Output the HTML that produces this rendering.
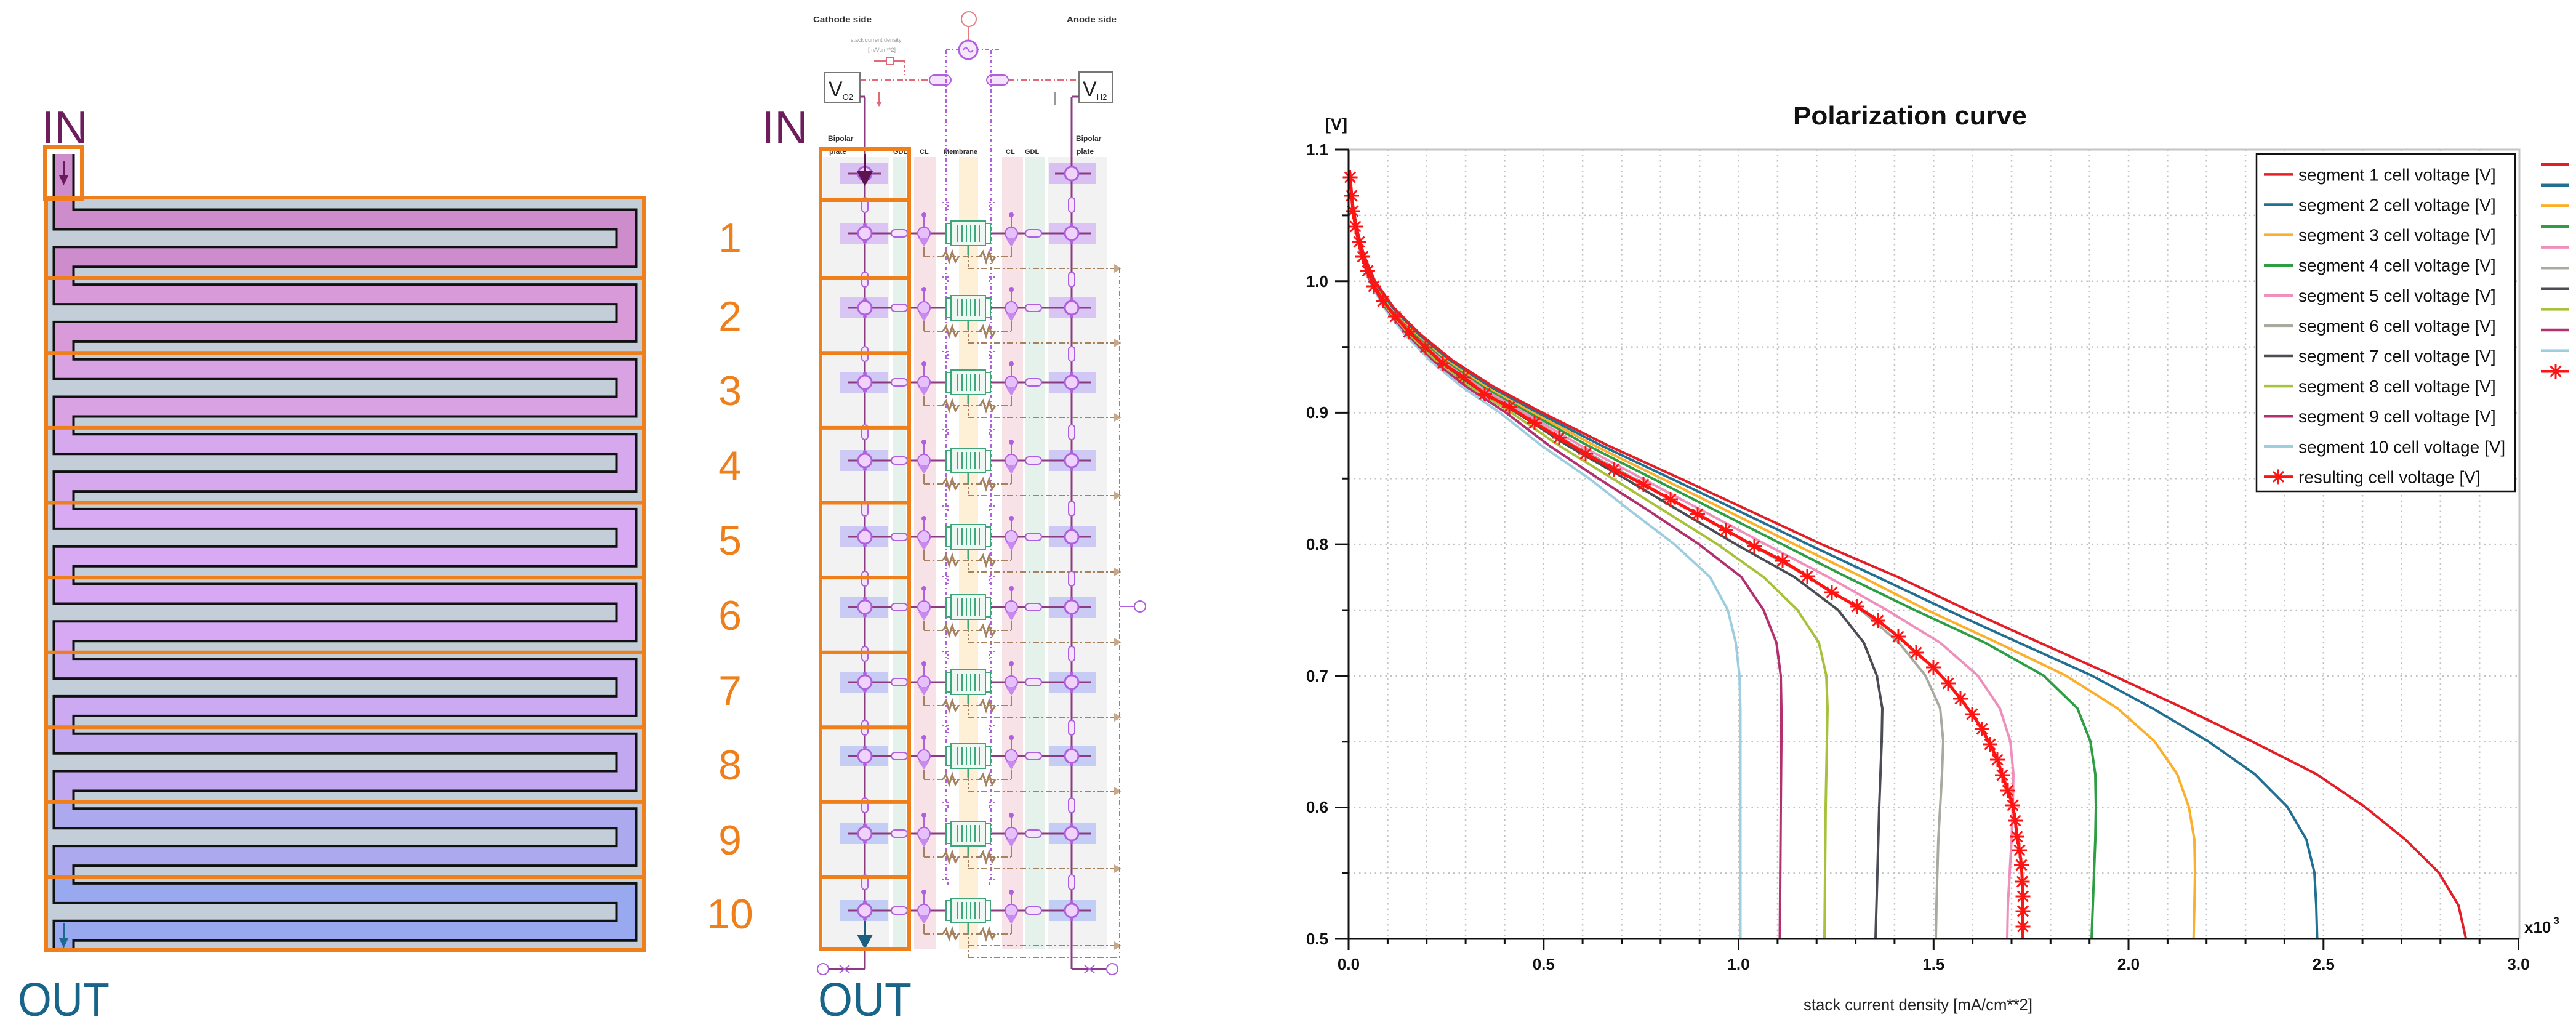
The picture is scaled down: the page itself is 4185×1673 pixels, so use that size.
<!DOCTYPE html>
<html>
<head>
<meta charset="utf-8">
<style>
html,body{margin:0;padding:0;background:#fff;}
body{width:4185px;height:1673px;overflow:hidden;}
svg{display:block;}
text{font-family:"Liberation Sans",Arial,sans-serif;}
</style>
</head>
<body>
<svg width="4185" height="1673" viewBox="0 0 4185 1673" xmlns="http://www.w3.org/2000/svg">
<defs>
  <path id="chan" fill="none" stroke-linejoin="miter" stroke-miterlimit="10" stroke-linecap="butt"
    d="M103.5,250 V356.5 H1017.5 V417.3 H103.5 V478.1 H1017.5 V538.9 H103.5 V599.7 H1017.5 V660.5 H103.5 V721.3 H1017.5 V782.1 H103.5 V842.9 H1017.5 V903.7 H103.5 V964.5 H1017.5 V1025.3 H103.5 V1086.1 H1017.5 V1146.9 H103.5 V1207.7 H1017.5 V1268.5 H103.5 V1329.3 H1017.5 V1390.1 H103.5 V1450.9 H1017.5 V1511.7 H103.5 V1543"/>
  <clipPath id="c1"><rect x="0" y="0" width="1100" height="451.7"/></clipPath>
  <clipPath id="c2"><rect x="0" y="451.7" width="1100" height="121.6"/></clipPath>
  <clipPath id="c3"><rect x="0" y="573.3" width="1100" height="121.6"/></clipPath>
  <clipPath id="c4"><rect x="0" y="694.9" width="1100" height="121.6"/></clipPath>
  <clipPath id="c5"><rect x="0" y="816.5" width="1100" height="121.6"/></clipPath>
  <clipPath id="c6"><rect x="0" y="938.1" width="1100" height="121.6"/></clipPath>
  <clipPath id="c7"><rect x="0" y="1059.7" width="1100" height="121.6"/></clipPath>
  <clipPath id="c8"><rect x="0" y="1181.3" width="1100" height="121.6"/></clipPath>
  <clipPath id="c9"><rect x="0" y="1302.9" width="1100" height="121.6"/></clipPath>
  <clipPath id="c10"><rect x="0" y="1424.5" width="1100" height="200"/></clipPath>

  <g id="ast" stroke="#ff1414" stroke-width="3" fill="none">
    <line x1="-12" y1="0" x2="12" y2="0"/>
    <line x1="0" y1="-12" x2="0" y2="12"/>
    <line x1="-8.5" y1="-8.5" x2="8.5" y2="8.5"/>
    <line x1="-8.5" y1="8.5" x2="8.5" y2="-8.5"/>
  </g>

  <g id="mrow">
    <line x1="1378" y1="0" x2="1772" y2="0" stroke="#8b3c80" stroke-width="3"/>
    <rect x="1400" y="-58" width="10" height="24" rx="5" fill="#f3e3fb" stroke="#b05fe0" stroke-width="2"/>
    <rect x="1736" y="-58" width="10" height="24" rx="5" fill="#f3e3fb" stroke="#b05fe0" stroke-width="2"/>
    <circle cx="1405" cy="0" r="11" fill="#efd3fb" stroke="#b05fe0" stroke-width="3"/>
    <circle cx="1741" cy="0" r="11" fill="#efd3fb" stroke="#b05fe0" stroke-width="3"/>
    <circle cx="1405" cy="-14" r="3" fill="#b05fe0"/><circle cx="1405" cy="14" r="3" fill="#b05fe0"/>
    <circle cx="1741" cy="-14" r="3" fill="#b05fe0"/><circle cx="1741" cy="14" r="3" fill="#b05fe0"/>
    <rect x="1448" y="-6" width="26" height="12" rx="6" fill="#f3e3fb" stroke="#b05fe0" stroke-width="2"/>
    <rect x="1666" y="-6" width="26" height="12" rx="6" fill="#f3e3fb" stroke="#b05fe0" stroke-width="2"/>
    <line x1="1501" y1="-30" x2="1501" y2="-10" stroke="#b05fe0" stroke-width="2"/>
    <circle cx="1501" cy="-30" r="4" fill="#b05fe0"/>
    <circle cx="1501" cy="0" r="10" fill="#e6c0fa" stroke="#b05fe0" stroke-width="2"/>
    <polygon points="1492,8 1510,8 1501,22" fill="#c98af0"/>
    <line x1="1643" y1="-30" x2="1643" y2="-10" stroke="#b05fe0" stroke-width="2"/>
    <circle cx="1643" cy="-30" r="4" fill="#b05fe0"/>
    <circle cx="1643" cy="0" r="10" fill="#e6c0fa" stroke="#b05fe0" stroke-width="2"/>
    <polygon points="1634,8 1652,8 1643,22" fill="#c98af0"/>
    <rect x="1537" y="-16" width="8" height="32" fill="#fff" stroke="#3fa57a" stroke-width="2"/>
    <rect x="1601" y="-16" width="8" height="32" fill="#fff" stroke="#3fa57a" stroke-width="2"/>
    <rect x="1545" y="-20" width="56" height="40" fill="#eef8f2" stroke="#3fa57a" stroke-width="2"/>
    <path d="M1556,-14V14M1563,-14V14M1570,-14V14M1577,-14V14M1584,-14V14M1591,-14V14" stroke="#3fa57a" stroke-width="2"/>
    <line x1="1573" y1="20" x2="1573" y2="36" stroke="#3fa57a" stroke-width="3"/>
    <line x1="1501" y1="22" x2="1501" y2="38" stroke="#a5815f" stroke-width="2"/>
    <line x1="1643" y1="22" x2="1643" y2="38" stroke="#a5815f" stroke-width="2"/>
    <line x1="1501" y1="38" x2="1643" y2="38" stroke="#a5815f" stroke-width="2" stroke-dasharray="10 4 3 4"/>
    <path d="M1532,38 l5,-8 l5,16 l5,-16 l5,16 l5,-8 M1592,38 l5,-8 l5,16 l5,-16 l5,16 l5,-8" stroke="#a5815f" stroke-width="3" fill="none"/>
    <line x1="1573" y1="36" x2="1573" y2="57" stroke="#a5815f" stroke-width="2" stroke-dasharray="4 3"/>
    <line x1="1573" y1="57" x2="1819" y2="57" stroke="#a5815f" stroke-width="2" stroke-dasharray="10 4 3 4"/>
    <polygon points="1810,50 1822,57 1810,64" fill="#c9a88a"/>
    <path d="M1530,-50 h10 v12 M1617,-50 h-10 v12" stroke="#b05fe0" stroke-width="2" fill="none" stroke-dasharray="4 3"/>
  </g>
</defs>

<!-- ================= LEFT PANEL ================= -->
<rect x="75" y="321" width="971" height="1222" fill="#c3ced8"/>
<use href="#chan" stroke="#111" stroke-width="36"/>
<use href="#chan" stroke="#cd8ccc" stroke-width="28" clip-path="url(#c1)"/>
<use href="#chan" stroke="#d89ad8" stroke-width="28" clip-path="url(#c2)"/>
<use href="#chan" stroke="#d9a2e2" stroke-width="28" clip-path="url(#c3)"/>
<use href="#chan" stroke="#d6a8ee" stroke-width="28" clip-path="url(#c4)"/>
<use href="#chan" stroke="#d8aaf3" stroke-width="28" clip-path="url(#c5)"/>
<use href="#chan" stroke="#d7a9f4" stroke-width="28" clip-path="url(#c6)"/>
<use href="#chan" stroke="#ccaaf1" stroke-width="28" clip-path="url(#c7)"/>
<use href="#chan" stroke="#c2a8f0" stroke-width="28" clip-path="url(#c8)"/>
<use href="#chan" stroke="#aca9ef" stroke-width="28" clip-path="url(#c9)"/>
<use href="#chan" stroke="#98a9f0" stroke-width="28" clip-path="url(#c10)"/>
<!-- arrows -->
<line x1="103.5" y1="262" x2="103.5" y2="290" stroke="#6a1b5a" stroke-width="3"/>
<polygon points="96,285 111,285 103.5,301" fill="#6a1b5a"/>
<line x1="103.5" y1="1500" x2="103.5" y2="1528" stroke="#1b6a90" stroke-width="3"/>
<polygon points="96,1524 111,1524 103.5,1540" fill="#1b6a90"/>
<!-- orange boxes -->
<g fill="none" stroke="#ee7f1b" stroke-width="6">
  <rect x="73" y="239" width="60" height="84"/>
  <rect x="75" y="321" width="971" height="1222"/>
  <path d="M75,451.7H1046M75,573.3H1046M75,694.9H1046M75,816.5H1046M75,938.1H1046M75,1059.7H1046M75,1181.3H1046M75,1302.9H1046M75,1424.5H1046"/>
</g>
<text x="67" y="233" font-size="75" fill="#6b1d5c" textLength="76" lengthAdjust="spacingAndGlyphs">IN</text>
<text x="29" y="1650" font-size="77" fill="#19658a" textLength="149" lengthAdjust="spacingAndGlyphs">OUT</text>

<!-- segment numbers -->
<g font-size="68" fill="#ee7f1b" text-anchor="middle">
  <text x="1186" y="410">1</text>
  <text x="1186" y="537">2</text>
  <text x="1186" y="658">3</text>
  <text x="1186" y="780">4</text>
  <text x="1186" y="901">5</text>
  <text x="1186" y="1023">6</text>
  <text x="1186" y="1145">7</text>
  <text x="1186" y="1266">8</text>
  <text x="1186" y="1388">9</text>
  <text x="1186" y="1508">10</text>
</g>

<!-- ================= MIDDLE PANEL ================= -->
<g>
  <rect x="1337" y="255" width="108" height="1286" fill="#f2f2f2"/>
  <rect x="1451" y="255" width="21" height="1286" fill="#e4f2eb"/>
  <rect x="1485" y="255" width="36" height="1286" fill="#f7e2e7"/>
  <rect x="1558" y="255" width="31" height="1286" fill="#fdf0d7"/>
  <rect x="1628" y="255" width="34" height="1286" fill="#f7e2e7"/>
  <rect x="1666" y="255" width="31" height="1286" fill="#e4f2eb"/>
  <rect x="1703" y="255" width="95" height="1286" fill="#f2f2f2"/>
</g>
<g font-size="13" font-weight="bold" fill="#333">
  <text x="1321" y="36" textLength="95" lengthAdjust="spacingAndGlyphs">Cathode side</text>
  <text x="1733" y="36" textLength="81" lengthAdjust="spacingAndGlyphs">Anode side</text>
  <text x="1345" y="229" font-size="12">Bipolar</text>
  <text x="1347" y="250" font-size="12">plate</text>
  <text x="1451" y="250" font-size="11">GDL</text>
  <text x="1494" y="250" font-size="11">CL</text>
  <text x="1533" y="250" font-size="11">Membrane</text>
  <text x="1634" y="250" font-size="11">CL</text>
  <text x="1665" y="250" font-size="11">GDL</text>
  <text x="1748" y="229" font-size="12">Bipolar</text>
  <text x="1749" y="250" font-size="12">plate</text>
</g>
<text x="1382" y="68" font-size="9" fill="#999">stack current density</text>
<text x="1410" y="84" font-size="9" fill="#999">[mA/cm**2]</text>
<!-- top components -->
<circle cx="1574" cy="31" r="12" fill="none" stroke="#e87a80" stroke-width="2"/>
<line x1="1574" y1="43" x2="1574" y2="66" stroke="#e87a80" stroke-width="2"/>
<line x1="1537" y1="81" x2="1625" y2="81" stroke="#b05fe0" stroke-width="2" stroke-dasharray="6 4 2 4"/>
<circle cx="1573" cy="81" r="15" fill="#f5e6fc" stroke="#b05fe0" stroke-width="3"/>
<path d="M1565,81 q4,-7 8,0 q4,7 8,0" fill="none" stroke="#b05fe0" stroke-width="2"/>
<line x1="1420" y1="99" x2="1470" y2="99" stroke="#e06a78" stroke-width="2"/>
<rect x="1440" y="93" width="12" height="12" fill="#fff" stroke="#e06a78" stroke-width="2"/>
<line x1="1470" y1="99" x2="1470" y2="122" stroke="#e06a78" stroke-width="2" stroke-dasharray="4 3"/>
<line x1="1397" y1="130" x2="1510" y2="130" stroke="#e06a78" stroke-width="2" stroke-dasharray="10 4 2 4"/>
<line x1="1638" y1="130" x2="1753" y2="130" stroke="#e06a78" stroke-width="2" stroke-dasharray="10 4 2 4"/>
<rect x="1510" y="122" width="35" height="16" rx="8" fill="#f3e3fb" stroke="#b05fe0" stroke-width="2"/>
<rect x="1603" y="122" width="35" height="16" rx="8" fill="#f3e3fb" stroke="#b05fe0" stroke-width="2"/>
<line x1="1428" y1="150" x2="1428" y2="170" stroke="#e06a78" stroke-width="2"/>
<polygon points="1423,165 1433,165 1428,173" fill="#e06a78"/>
<line x1="1714" y1="150" x2="1714" y2="170" stroke="#999" stroke-width="2"/>
<!-- V boxes -->
<rect x="1339" y="118" width="58" height="48" fill="#fff" stroke="#777" stroke-width="2"/>
<text x="1346" y="156" font-size="34" font-family="Liberation Serif, serif" fill="#222">V<tspan font-size="13" dy="6">O2</tspan></text>
<rect x="1753" y="117" width="55" height="49" fill="#fff" stroke="#777" stroke-width="2"/>
<text x="1759" y="156" font-size="34" font-family="Liberation Serif, serif" fill="#222">V<tspan font-size="13" dy="6">H2</tspan></text>
<!-- dashed purple verticals -->
<path d="M1537,81V1430M1610,81V1430" stroke="#b05fe0" stroke-width="2" stroke-dasharray="6 4 2 4"/>
<!-- highlight rects -->
<g>
  <rect x="1365" y="265" width="77" height="34" fill="#d8c0f2"/><rect x="1705" y="265" width="76" height="34" fill="#d8c0f2"/>
  <rect x="1365" y="362" width="77" height="34" fill="#dcc5f4"/><rect x="1705" y="362" width="76" height="34" fill="#dcc5f4"/>
  <rect x="1365" y="483" width="77" height="34" fill="#d8c5f4"/><rect x="1705" y="483" width="76" height="34" fill="#d8c5f4"/>
  <rect x="1365" y="604" width="77" height="34" fill="#d2c8f5"/><rect x="1705" y="604" width="76" height="34" fill="#d2c8f5"/>
  <rect x="1365" y="731" width="77" height="34" fill="#cfc9f5"/><rect x="1705" y="731" width="76" height="34" fill="#cfc9f5"/>
  <rect x="1365" y="855" width="77" height="34" fill="#ccc9f5"/><rect x="1705" y="855" width="76" height="34" fill="#ccc9f5"/>
  <rect x="1365" y="969" width="77" height="34" fill="#cacbf5"/><rect x="1705" y="969" width="76" height="34" fill="#cacbf5"/>
  <rect x="1365" y="1091" width="77" height="34" fill="#c8ccf5"/><rect x="1705" y="1091" width="76" height="34" fill="#c8ccf5"/>
  <rect x="1365" y="1211" width="77" height="34" fill="#c6cdf5"/><rect x="1705" y="1211" width="76" height="34" fill="#c6cdf5"/>
  <rect x="1365" y="1337" width="77" height="34" fill="#c4cdf5"/><rect x="1705" y="1337" width="76" height="34" fill="#c4cdf5"/>
  <rect x="1365" y="1462" width="77" height="34" fill="#c2cef5"/><rect x="1705" y="1462" width="76" height="34" fill="#c2cef5"/>
</g>
<!-- main vertical lines -->
<line x1="1405" y1="157" x2="1405" y2="1574" stroke="#8b3c80" stroke-width="3"/>
<line x1="1741" y1="157" x2="1741" y2="1574" stroke="#8b3c80" stroke-width="3"/>
<line x1="1397" y1="157" x2="1405" y2="157" stroke="#8b3c80" stroke-width="3"/>
<line x1="1741" y1="157" x2="1753" y2="157" stroke="#8b3c80" stroke-width="3"/>
<!-- inlet row -->
<line x1="1378" y1="282" x2="1432" y2="282" stroke="#8b3c80" stroke-width="3"/>
<circle cx="1405" cy="282" r="11" fill="#efd3fb" stroke="#b05fe0" stroke-width="3"/>
<line x1="1714" y1="282" x2="1772" y2="282" stroke="#8b3c80" stroke-width="3"/>
<circle cx="1741" cy="282" r="11" fill="#efd3fb" stroke="#b05fe0" stroke-width="3"/>
<line x1="1405" y1="250" x2="1405" y2="285" stroke="#5e1450" stroke-width="4"/>
<polygon points="1392,278 1418,278 1405,303" fill="#5e1450"/>
<!-- rows -->
<use href="#mrow" y="379"/>
<use href="#mrow" y="500"/>
<use href="#mrow" y="621"/>
<use href="#mrow" y="748"/>
<use href="#mrow" y="872"/>
<use href="#mrow" y="986"/>
<use href="#mrow" y="1108"/>
<use href="#mrow" y="1228"/>
<use href="#mrow" y="1354"/>
<use href="#mrow" y="1479"/>
<!-- brown right vertical -->
<line x1="1819" y1="436" x2="1819" y2="1555" stroke="#a5815f" stroke-width="2" stroke-dasharray="8 4 2 4"/>
<line x1="1573" y1="1536" x2="1819" y2="1555" stroke="none"/>
<line x1="1573" y1="1555" x2="1819" y2="1555" stroke="#a5815f" stroke-width="2" stroke-dasharray="10 4 3 4"/>
<line x1="1573" y1="1515" x2="1573" y2="1555" stroke="#a5815f" stroke-width="2" stroke-dasharray="4 3"/>
<line x1="1819" y1="985" x2="1843" y2="985" stroke="#b05fe0" stroke-width="2"/>
<circle cx="1852" cy="985" r="9" fill="#fff" stroke="#b05fe0" stroke-width="2"/>
<!-- out -->
<line x1="1405" y1="1496" x2="1405" y2="1525" stroke="#1b5f80" stroke-width="4"/>
<polygon points="1392,1518 1418,1518 1405,1542" fill="#1b5f80"/>
<line x1="1346" y1="1574" x2="1405" y2="1574" stroke="#8b3c80" stroke-width="3"/>
<circle cx="1337" cy="1574" r="9" fill="#fff" stroke="#b05fe0" stroke-width="2"/>
<path d="M1364,1568 l8,6 l-8,6 M1380,1568 l-8,6 l8,6" stroke="#b05fe0" stroke-width="2" fill="none"/>
<line x1="1741" y1="1574" x2="1798" y2="1574" stroke="#8b3c80" stroke-width="3"/>
<circle cx="1807" cy="1574" r="9" fill="#fff" stroke="#b05fe0" stroke-width="2"/>
<path d="M1762,1568 l8,6 l-8,6 M1778,1568 l-8,6 l8,6" stroke="#b05fe0" stroke-width="2" fill="none"/>
<!-- middle orange boxes -->
<g fill="none" stroke="#ee7f1b" stroke-width="6">
  <rect x="1333" y="242" width="144" height="1299"/>
  <path d="M1333,325H1477M1333,451.7H1477M1333,573.3H1477M1333,694.9H1477M1333,816.5H1477M1333,938.1H1477M1333,1059.7H1477M1333,1181.3H1477M1333,1302.9H1477M1333,1424.5H1477"/>
</g>
<text x="1237" y="233" font-size="75" fill="#6b1d5c" textLength="76" lengthAdjust="spacingAndGlyphs">IN</text>
<text x="1329" y="1650" font-size="77" fill="#19658a" textLength="152" lengthAdjust="spacingAndGlyphs">OUT</text>

<!-- ================= CHART ================= -->
<!-- grid -->
<path fill="none" stroke="#c2c2c2" stroke-width="2.5" stroke-dasharray="2.5 6"
  d="M2254.4,243V1525M2317.7,243V1525M2381.1,243V1525M2444.4,243V1525M2507.8,243V1525M2571.1,243V1525M2634.5,243V1525M2697.8,243V1525M2761.2,243V1525M2824.5,243V1525M2887.9,243V1525M2951.2,243V1525M3014.6,243V1525M3077.9,243V1525M3141.3,243V1525M3204.6,243V1525M3268,243V1525M3331.3,243V1525M3394.7,243V1525M3458,243V1525M3521.4,243V1525M3584.7,243V1525M3648.1,243V1525M3711.4,243V1525M3774.8,243V1525M3838.1,243V1525M3901.5,243V1525M3964.8,243V1525M4028.2,243V1525
  M2191,349.9H4091M2191,456.7H4091M2191,563.6H4091M2191,670.4H4091M2191,777.3H4091M2191,884.1H4091M2191,991H4091M2191,1097.8H4091M2191,1204.7H4091M2191,1311.5H4091M2191,1418.4H4091"/>
<!-- plot border -->
<path d="M2191,243H4093V1525" fill="none" stroke="#c4c4c4" stroke-width="3"/>

<!-- series -->
<g fill="none" stroke-width="4" stroke-linejoin="round" stroke-linecap="round">
<polyline stroke="#9fcde0" points="2193,280 2193.3,286.7 2196.5,329.3 2201.9,372 2211,414.6 2225.1,457.3 2248.8,500 2282,542.6 2323,585.3 2374.5,627.9 2437,670.6 2504.5,723.9 2582,777.3 2650,830.6 2720,883.9 2778,937.2 2807,990.6 2820,1043.9 2826,1097.2 2827.5,1150.5 2827.5,1524"/>
<polyline stroke="#b3306e" points="2193,280 2193.3,286.7 2196.7,329.3 2202.3,372 2211.7,414.6 2226.5,457.3 2251.1,500 2285.7,542.6 2328.3,585.3 2381.9,627.9 2447,670.6 2517,723.9 2597,777.3 2680,830.6 2760,883.9 2829,937.2 2865,990.6 2886,1043.9 2893,1097.2 2894,1150.5 2894,1203.9 2893,1310.5 2891.5,1524"/>
<polyline stroke="#a7c23a" points="2193,280 2193.3,286.7 2196.8,329.3 2202.6,372 2212.4,414.6 2227.6,457.3 2253.1,500 2288.9,542.6 2333,585.3 2388.6,627.9 2456,670.6 2533,723.9 2620,777.3 2705,830.6 2790,883.9 2865,937.2 2920,990.6 2955,1043.9 2967,1097.2 2969,1150.5 2968,1203.9 2966,1310.5 2964,1524"/>
<polyline stroke="#4b4d55" points="2193,280 2193.3,286.7 2196.9,329.3 2202.9,372 2213,414.6 2228.7,457.3 2255,500 2291.9,542.6 2337.3,585.3 2394.5,627.9 2464,670.6 2547,723.9 2640,777.3 2730,830.6 2820,883.9 2915,937.2 2986,990.6 3028,1043.9 3049,1097.2 3058,1150.5 3057,1203.9 3053,1310.5 3047,1524"/>
<polyline stroke="#a9a9a0" points="2193,280 2193.3,286.7 2197,329.3 2203.2,372 2213.5,414.6 2229.6,457.3 2256.5,500 2294.4,542.6 2340.9,585.3 2399.6,627.9 2471,670.6 2558,723.9 2655,777.3 2750,830.6 2843,883.9 2938,937.2 3023,990.6 3085,1043.9 3128,1097.2 3152,1150.5 3157,1203.9 3155,1257.2 3152,1310.5 3149,1363.8 3146,1470.5 3145,1524"/>
<polyline stroke="#ef8fbb" points="2193,280 2193.3,286.7 2197.1,329.3 2203.4,372 2214,414.6 2230.5,457.3 2258.1,500 2296.9,542.6 2344.7,585.3 2404.9,627.9 2478,670.6 2568,723.9 2668,777.3 2768,830.6 2868,883.9 2970,937.2 3065,990.6 3152,1043.9 3213,1097.2 3249,1150.5 3266,1203.9 3271,1257.2 3270,1310.5 3268,1363.8 3265,1417.2 3262,1470.5 3261,1524"/>
<polyline stroke="#2e9e45" points="2193,280 2193.3,286.7 2197.2,329.3 2203.7,372 2214.5,414.6 2231.4,457.3 2259.7,500 2299.5,542.6 2348.4,585.3 2410.1,627.9 2485,670.6 2580,723.9 2685,777.3 2790,830.6 2895,883.9 3000,937.2 3110,990.6 3225,1043.9 3320,1097.2 3375,1150.5 3396,1203.9 3404,1257.2 3405,1310.5 3404,1363.8 3402,1417.2 3400,1470.5 3398,1524"/>
<polyline stroke="#fcaf2b" points="2193,280 2193.3,286.7 2197.3,329.3 2203.9,372 2215,414.6 2232.4,457.3 2261.4,500 2302.1,542.6 2352.2,585.3 2415.3,627.9 2492,670.6 2591,723.9 2700,777.3 2807.5,830.6 2915,883.9 3025,937.2 3130,990.6 3245,1043.9 3356,1097.2 3440,1150.5 3500,1203.9 3537,1257.2 3556,1310.5 3565,1363.8 3566,1417.2 3565,1470.5 3563.7,1524"/>
<polyline stroke="#236f94" points="2193,280 2193.3,286.7 2197.4,329.3 2204.2,372 2215.5,414.6 2233.3,457.3 2263,500 2304.6,542.6 2355.9,585.3 2420.5,627.9 2499,670.6 2602,723.9 2715,777.3 2826,830.6 2937,883.9 3050,937.2 3163,990.6 3280,1043.9 3398,1097.2 3497,1150.5 3587,1203.9 3663,1257.2 3716,1310.5 3747,1363.8 3760,1417.2 3763,1470.5 3764.5,1524"/>
<polyline stroke="#e41e26" points="2193,280 2193.3,286.7 2197.5,329.3 2204.5,372 2216,414.6 2234.2,457.3 2264.6,500 2307.2,542.6 2359.6,585.3 2425.8,627.9 2506,670.6 2613,723.9 2730,777.3 2844.5,830.6 2959,883.9 3083,937.2 3196,990.6 3314,1043.9 3433,1097.2 3548,1150.5 3658,1203.9 3763,1257.2 3842,1310.5 3908,1363.8 3962,1417.2 3994,1470.5 4006,1524"/>
<polyline stroke="#ff1414" stroke-width="5" points="2193,280 2193.5,288 2196,318 2198,343 2202,368 2208,393 2214,417 2222,440 2232,465 2247,489 2267,514 2289,539 2316,564 2344,590 2378,613 2412,640 2452,661 2493,687 2533,711 2576,737 2622,762 2670,787 2714,811 2758,835 2804,861 2850,887 2896,911 2936,936 2976,962 3017,985 3051,1008 3084,1034 3113,1060 3141,1084 3165,1110 3185,1135 3204,1160 3220,1184 3233,1209 3245,1234 3253,1259 3262,1284 3270,1308 3274,1333 3277,1359 3281,1381 3284,1405 3285.5,1432 3286.5,1456 3286.5,1480 3286.5,1505 3286.5,1524"/>
</g>
<!-- star markers -->
<g>
<use href="#ast" x="2193.5" y="288"/><use href="#ast" x="2196" y="318"/><use href="#ast" x="2198" y="343"/><use href="#ast" x="2202" y="368"/><use href="#ast" x="2208" y="393"/>
<use href="#ast" x="2214" y="417"/><use href="#ast" x="2222" y="440"/><use href="#ast" x="2232" y="465"/><use href="#ast" x="2247" y="489"/><use href="#ast" x="2267" y="514"/>
<use href="#ast" x="2289" y="539"/><use href="#ast" x="2316" y="564"/><use href="#ast" x="2344" y="590"/><use href="#ast" x="2378" y="613"/><use href="#ast" x="2412" y="640"/>
<use href="#ast" x="2452" y="661"/><use href="#ast" x="2493" y="687"/><use href="#ast" x="2533" y="711"/><use href="#ast" x="2576" y="737"/><use href="#ast" x="2622" y="762"/>
<use href="#ast" x="2670" y="787"/><use href="#ast" x="2714" y="811"/><use href="#ast" x="2758" y="835"/><use href="#ast" x="2804" y="861"/><use href="#ast" x="2850" y="887"/>
<use href="#ast" x="2896" y="911"/><use href="#ast" x="2936" y="936"/><use href="#ast" x="2976" y="962"/><use href="#ast" x="3017" y="985"/><use href="#ast" x="3051" y="1008"/>
<use href="#ast" x="3084" y="1034"/><use href="#ast" x="3113" y="1060"/><use href="#ast" x="3141" y="1084"/><use href="#ast" x="3165" y="1110"/><use href="#ast" x="3185" y="1135"/>
<use href="#ast" x="3204" y="1160"/><use href="#ast" x="3220" y="1184"/><use href="#ast" x="3233" y="1209"/><use href="#ast" x="3245" y="1234"/><use href="#ast" x="3253" y="1259"/>
<use href="#ast" x="3262" y="1284"/><use href="#ast" x="3270" y="1308"/><use href="#ast" x="3274" y="1333"/><use href="#ast" x="3277" y="1359"/><use href="#ast" x="3281" y="1381"/>
<use href="#ast" x="3284" y="1405"/><use href="#ast" x="3285.5" y="1432"/><use href="#ast" x="3286.5" y="1456"/><use href="#ast" x="3286.5" y="1480"/><use href="#ast" x="3286.5" y="1505"/>
</g>

<!-- axes -->
<g stroke="#111" stroke-width="3" fill="none">
  <line x1="2191" y1="243" x2="2191" y2="1543"/>
  <line x1="2169" y1="1525" x2="4093" y2="1525"/>
  <path d="M2169,243H2191M2169,456.7H2191M2169,670.4H2191M2169,884.1H2191M2169,1097.8H2191M2169,1311.5H2191"/>
  <path d="M2180,349.9H2191M2180,563.6H2191M2180,777.3H2191M2180,991H2191M2180,1204.7H2191M2180,1418.4H2191"/>
  <path d="M2507.8,1525V1543M2824.5,1525V1543M3141.3,1525V1543M3458,1525V1543M3774.8,1525V1543M4091.5,1525V1543"/>
  <path d="M2254.4,1525V1534M2317.7,1525V1534M2381.1,1525V1534M2444.4,1525V1534M2571.1,1525V1534M2634.5,1525V1534M2697.8,1525V1534M2761.2,1525V1534M2887.9,1525V1534M2951.2,1525V1534M3014.6,1525V1534M3077.9,1525V1534M3204.6,1525V1534M3268,1525V1534M3331.3,1525V1534M3394.7,1525V1534M3521.4,1525V1534M3584.7,1525V1534M3648.1,1525V1534M3711.4,1525V1534M3838.1,1525V1534M3901.5,1525V1534M3964.8,1525V1534M4028.2,1525V1534"/>
</g>
<g font-size="26" font-weight="bold" fill="#111" text-anchor="end">
  <text x="2158" y="252">1.1</text>
  <text x="2158" y="466">1.0</text>
  <text x="2158" y="679">0.9</text>
  <text x="2158" y="893">0.8</text>
  <text x="2158" y="1107">0.7</text>
  <text x="2158" y="1320">0.6</text>
  <text x="2158" y="1534">0.5</text>
</g>
<g font-size="26" font-weight="bold" fill="#111" text-anchor="middle">
  <text x="2191" y="1575">0.0</text>
  <text x="2507.8" y="1575">0.5</text>
  <text x="2824.5" y="1575">1.0</text>
  <text x="3141.3" y="1575">1.5</text>
  <text x="3458" y="1575">2.0</text>
  <text x="3774.8" y="1575">2.5</text>
  <text x="4091.5" y="1575">3.0</text>
</g>
<text x="2189" y="211" font-size="27" font-weight="bold" fill="#111" text-anchor="end">[V]</text>
<text x="4101" y="1515" font-size="26" font-weight="bold" fill="#111">x10<tspan font-size="17" dx="4" dy="-14">3</tspan></text>
<text x="2913" y="202" font-size="42" font-weight="bold" fill="#111" textLength="380" lengthAdjust="spacingAndGlyphs">Polarization curve</text>
<text x="2930" y="1641" font-size="27" fill="#222" textLength="372" lengthAdjust="spacingAndGlyphs">stack current density [mA/cm**2]</text>

<!-- legend box -->
<rect x="3666" y="250" width="420" height="548" fill="#fff" stroke="#111" stroke-width="2.5"/>
<g stroke-width="4.5" fill="none">
  <line x1="3678" y1="283.4" x2="3725" y2="283.4" stroke="#e41e26"/>
  <line x1="3678" y1="332.5" x2="3725" y2="332.5" stroke="#236f94"/>
  <line x1="3678" y1="381.6" x2="3725" y2="381.6" stroke="#fcaf2b"/>
  <line x1="3678" y1="430.7" x2="3725" y2="430.7" stroke="#2e9e45"/>
  <line x1="3678" y1="479.8" x2="3725" y2="479.8" stroke="#ef8fbb"/>
  <line x1="3678" y1="528.9" x2="3725" y2="528.9" stroke="#a9a9a0"/>
  <line x1="3678" y1="578" x2="3725" y2="578" stroke="#4b4d55"/>
  <line x1="3678" y1="627.1" x2="3725" y2="627.1" stroke="#a7c23a"/>
  <line x1="3678" y1="676.2" x2="3725" y2="676.2" stroke="#b3306e"/>
  <line x1="3678" y1="725.3" x2="3725" y2="725.3" stroke="#9fcde0"/>
  <line x1="3678" y1="774.4" x2="3725" y2="774.4" stroke="#ff1414"/>
</g>
<use href="#ast" x="3701.5" y="774.4"/>
<g font-size="28" fill="#111">
  <text x="3734" y="293.4">segment 1 cell voltage [V]</text>
  <text x="3734" y="342.5">segment 2 cell voltage [V]</text>
  <text x="3734" y="391.6">segment 3 cell voltage [V]</text>
  <text x="3734" y="440.7">segment 4 cell voltage [V]</text>
  <text x="3734" y="489.8">segment 5 cell voltage [V]</text>
  <text x="3734" y="538.9">segment 6 cell voltage [V]</text>
  <text x="3734" y="588">segment 7 cell voltage [V]</text>
  <text x="3734" y="637.1">segment 8 cell voltage [V]</text>
  <text x="3734" y="686.2">segment 9 cell voltage [V]</text>
  <text x="3734" y="735.3">segment 10 cell voltage [V]</text>
  <text x="3734" y="784.4">resulting cell voltage [V]</text>
</g>
<!-- external legend samples -->
<g stroke-width="4.5" fill="none">
  <line x1="4128" y1="267.2" x2="4174" y2="267.2" stroke="#e41e26"/>
  <line x1="4128" y1="300.8" x2="4174" y2="300.8" stroke="#236f94"/>
  <line x1="4128" y1="334.4" x2="4174" y2="334.4" stroke="#fcaf2b"/>
  <line x1="4128" y1="368" x2="4174" y2="368" stroke="#2e9e45"/>
  <line x1="4128" y1="401.6" x2="4174" y2="401.6" stroke="#ef8fbb"/>
  <line x1="4128" y1="435.2" x2="4174" y2="435.2" stroke="#a9a9a0"/>
  <line x1="4128" y1="468.8" x2="4174" y2="468.8" stroke="#4b4d55"/>
  <line x1="4128" y1="502.4" x2="4174" y2="502.4" stroke="#a7c23a"/>
  <line x1="4128" y1="536" x2="4174" y2="536" stroke="#b3306e"/>
  <line x1="4128" y1="569.6" x2="4174" y2="569.6" stroke="#9fcde0"/>
  <line x1="4128" y1="603.2" x2="4174" y2="603.2" stroke="#ff1414"/>
</g>
<use href="#ast" x="4152" y="603.2"/>
</svg>
</body>
</html>
